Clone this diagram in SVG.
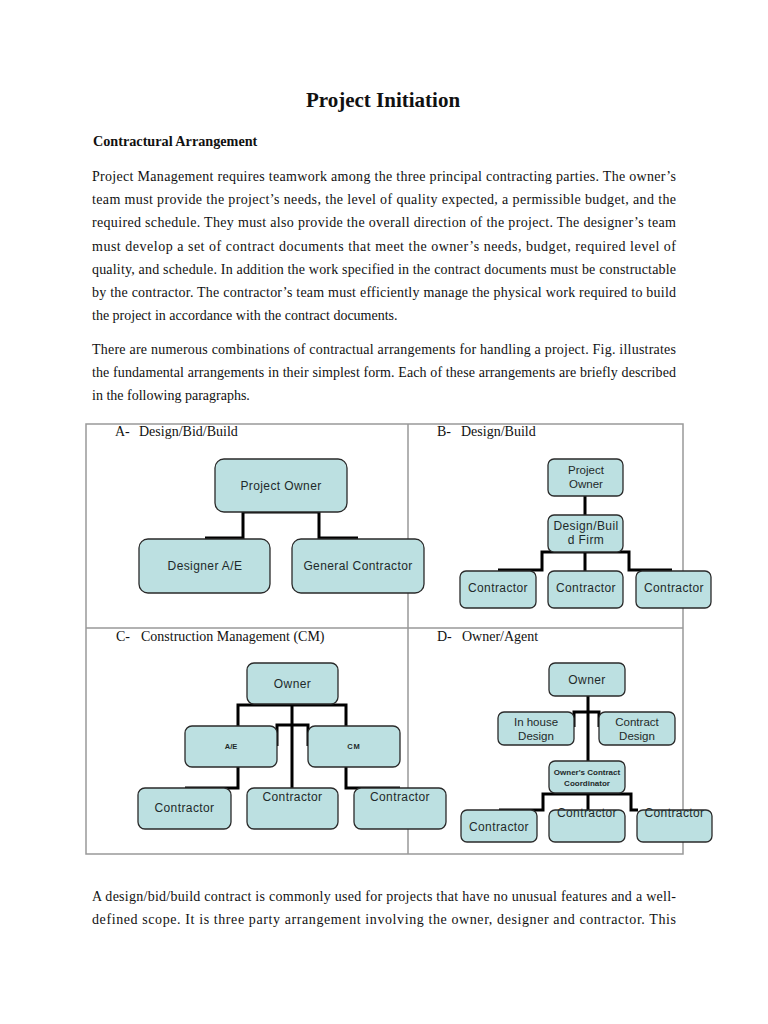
<svg xmlns="http://www.w3.org/2000/svg" width="768" height="1024" viewBox="0 0 768 1024">
<style>
.body{font-family:"Liberation Serif","Times New Roman",serif;font-size:14px;fill:#111}
.h1{font-family:"Liberation Serif","Times New Roman",serif;font-size:21px;font-weight:bold;fill:#111}
.h2{font-family:"Liberation Serif","Times New Roman",serif;font-size:14.2px;font-weight:bold;fill:#111}
.sec{font-family:"Liberation Serif","Times New Roman",serif;font-size:14px;fill:#111}
.box{fill:#bce0e1;stroke:#2a2a2a;stroke-width:1.3}
.lbl{font-family:"Liberation Sans",Arial,sans-serif;font-size:12px;letter-spacing:0.4px;fill:#1e2a2a;text-anchor:middle}
.lbls{font-family:"Liberation Sans",Arial,sans-serif;font-size:11.5px;fill:#1e2a2a;text-anchor:middle}
.tiny{font-family:"Liberation Sans",Arial,sans-serif;font-size:7.5px;font-weight:bold;fill:#1e2a2a;text-anchor:middle}
.coord{font-family:"Liberation Sans",Arial,sans-serif;font-size:8px;font-weight:bold;fill:#1e2a2a;text-anchor:middle}
.frame{fill:none;stroke:#999;stroke-width:1.5}
.conn path{fill:none;stroke:#000;stroke-width:3}
</style>
<rect width="768" height="1024" fill="#fff"/>

<text class="h1" x="383" y="107" text-anchor="middle">Project Initiation</text>
<text class="h2" x="93" y="146">Contractural Arrangement</text>

<g id="para1">
<text class="body" x="92" y="181" textLength="584" lengthAdjust="spacing">Project Management requires teamwork among the three principal contracting parties. The owner’s</text>
<text class="body" x="92" y="204" textLength="584" lengthAdjust="spacing">team must provide the project’s needs, the level of quality expected, a permissible budget, and the</text>
<text class="body" x="92" y="227" textLength="584" lengthAdjust="spacing">required schedule. They must also provide the overall direction of the project. The designer’s team</text>
<text class="body" x="92" y="251" textLength="584" lengthAdjust="spacing">must develop a set of contract documents that meet the owner’s needs, budget, required level of</text>
<text class="body" x="92" y="274" textLength="584" lengthAdjust="spacing">quality, and schedule. In addition the work specified in the contract documents must be constructable</text>
<text class="body" x="92" y="297" textLength="584" lengthAdjust="spacing">by the contractor. The contractor’s team must efficiently manage the physical work required to build</text>
<text class="body" x="92" y="320">the project in accordance with the contract documents.</text>
</g>
<g id="para2">
<text class="body" x="92" y="354" textLength="584" lengthAdjust="spacing">There are numerous combinations of contractual arrangements for handling a project. Fig. illustrates</text>
<text class="body" x="92" y="377" textLength="584" lengthAdjust="spacing">the fundamental arrangements in their simplest form. Each of these arrangements are briefly described</text>
<text class="body" x="92" y="400">in the following paragraphs.</text>
</g>
<g id="para3">
<text class="body" x="92" y="901" textLength="584" lengthAdjust="spacing">A design/bid/build contract is commonly used for projects that have no unusual features and a well-</text>
<text class="body" x="92" y="924" textLength="584" lengthAdjust="spacing">defined scope. It is three party arrangement involving the owner, designer and contractor. This</text>
</g>

<g id="frame">
<rect class="frame" x="86" y="424" width="597" height="430"/>
<line class="frame" x1="408" y1="424" x2="408" y2="854"/>
<line class="frame" x1="86" y1="628" x2="683" y2="628"/>
</g>

<g id="section-labels">
<text class="sec" x="115" y="436">A-</text><text class="sec" x="139" y="436">Design/Bid/Build</text>
<text class="sec" x="437" y="436">B-</text><text class="sec" x="461" y="436">Design/Build</text>
<text class="sec" x="116" y="641">C-</text><text class="sec" x="141" y="641">Construction Management (CM)</text>
<text class="sec" x="437" y="641">D-</text><text class="sec" x="462" y="641">Owner/Agent</text>
</g>

<g class="conn" id="connectors">
<path d="M243,512 V538 H205 M319,512 V538 H358 M243,512 H319"/>
<path d="M585,496 V515 M498,570 H542 V552 H629 V570 H672 M585,552 V571"/>
<path d="M238,726 V705 H346 V726 M292,704 V788 M277,746 V725 H308 V746 M185,788 H238 V767 M346,767 V788 H400"/>
<path d="M588,696 V761 M574,727 V712 H599 V727 M499,810 H543 V794 H631 V810 H638 M588,793 V810"/>
</g>

<g id="a-project-owner"><rect class="box" x="215" y="459" width="132" height="53" rx="9"/><text class="lbl" x="281" y="490">Project Owner</text></g>
<g id="a-designer"><rect class="box" x="139" y="539" width="131" height="54" rx="9"/><text class="lbl" x="205" y="570">Designer A/E</text></g>
<g id="a-general-contractor"><rect class="box" x="292" y="539" width="132" height="54" rx="9"/><text class="lbl" x="358" y="570">General Contractor</text></g>

<g id="b-project-owner"><rect class="box" x="548" y="459" width="75" height="37" rx="6"/><text class="lbls" x="586" y="474">Project</text><text class="lbls" x="586" y="488">Owner</text></g>
<g id="b-design-build"><rect class="box" x="548" y="515" width="75" height="37" rx="6"/><text class="lbl" x="586" y="530">Design/Buil</text><text class="lbl" x="586" y="544">d Firm</text></g>
<g id="b-contractor-1"><rect class="box" x="460" y="571" width="76" height="37" rx="6"/><text class="lbl" x="498" y="592">Contractor</text></g>
<g id="b-contractor-2"><rect class="box" x="548" y="571" width="75" height="37" rx="6"/><text class="lbl" x="586" y="592">Contractor</text></g>
<g id="b-contractor-3"><rect class="box" x="636" y="571" width="75" height="37" rx="6"/><text class="lbl" x="674" y="592">Contractor</text></g>

<g id="c-owner"><rect class="box" x="247" y="663" width="91" height="41" rx="7"/><text class="lbl" x="292.5" y="688">Owner</text></g>
<g id="c-ae"><rect class="box" x="185" y="726" width="92" height="41" rx="7"/><text class="tiny" x="231" y="749">A/E</text></g>
<g id="c-cm"><rect class="box" x="308" y="726" width="92" height="41" rx="7"/><text class="tiny" x="354" y="749" letter-spacing="1">CM</text></g>
<g id="c-contractor-1"><rect class="box" x="138" y="788" width="93" height="41" rx="7"/><text class="lbl" x="184.5" y="812">Contractor</text></g>
<g id="c-contractor-2"><rect class="box" x="247" y="788" width="91" height="41" rx="7"/><text class="lbl" x="292.5" y="801">Contractor</text></g>
<g id="c-contractor-3"><rect class="box" x="354" y="788" width="92" height="41" rx="7"/><text class="lbl" x="400" y="801">Contractor</text></g>

<g id="d-owner"><rect class="box" x="549" y="663" width="76" height="33" rx="6"/><text class="lbl" x="587" y="684">Owner</text></g>
<g id="d-inhouse"><rect class="box" x="498" y="712" width="76" height="33" rx="6"/><text class="lbls" x="536" y="726">In house</text><text class="lbls" x="536" y="740">Design</text></g>
<g id="d-contract-design"><rect class="box" x="599" y="712" width="76" height="33" rx="6"/><text class="lbls" x="637" y="726">Contract</text><text class="lbls" x="637" y="740">Design</text></g>
<g id="d-coordinator"><rect class="box" x="549" y="761" width="76" height="32" rx="6"/><text class="coord" x="587" y="775">Owner's Contract</text><text class="coord" x="587" y="786">Coordinator</text></g>
<g id="d-contractor-1"><rect class="box" x="461" y="810" width="76" height="32" rx="6"/><text class="lbl" x="499" y="831">Contractor</text></g>
<g id="d-contractor-2"><rect class="box" x="549" y="810" width="76" height="32" rx="6"/><text class="lbl" x="587" y="817">Contractor</text></g>
<g id="d-contractor-3"><rect class="box" x="637" y="810" width="75" height="32" rx="6"/><text class="lbl" x="674.5" y="817">Contractor</text></g>
</svg>
